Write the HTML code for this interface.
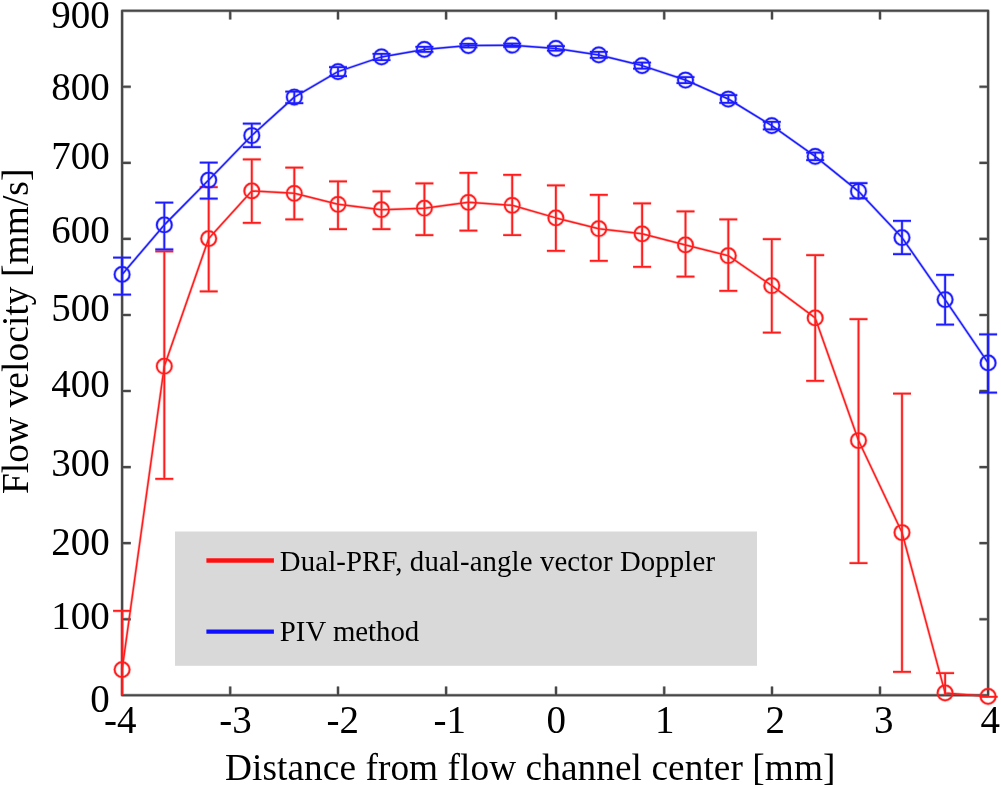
<!DOCTYPE html>
<html><head><meta charset="utf-8"><style>
html,body{margin:0;padding:0;background:#fff;width:1001px;height:788px;overflow:hidden}
svg{display:block}
text{font-family:"Liberation Serif","Times New Roman",serif;fill:#000}
</style></head><body>
<svg width="1001" height="788" viewBox="0 0 1001 788">
<defs><clipPath id="ax"><rect x="0" y="10.8" width="1001" height="684.4"/></clipPath></defs>
<rect x="175" y="531.5" width="582" height="134.3" fill="#d9d9d9"/>
<line x1="206.4" y1="560.5" x2="273.9" y2="560.5" stroke="#ff1010" stroke-width="4.4"/>
<line x1="206.4" y1="631.6" x2="273.9" y2="631.6" stroke="#1010ff" stroke-width="4.4"/>
<g font-size="28.8"><text x="279.8" y="571.4" textLength="435.2" lengthAdjust="spacing">Dual-PRF, dual-angle vector Doppler</text>
<text x="279.8" y="641.1">PIV method</text></g>
<path d="M122.1 10.8H988.1V695.2H122.1ZM122.1 695.2v-8.7M122.1 10.8v8.7M230.2 695.2v-8.7M230.2 10.8v8.7M338.0 695.2v-8.7M338.0 10.8v8.7M446.1 695.2v-8.7M446.1 10.8v8.7M556.0 695.2v-8.7M556.0 10.8v8.7M664.2 695.2v-8.7M664.2 10.8v8.7M772.0 695.2v-8.7M772.0 10.8v8.7M880.0 695.2v-8.7M880.0 10.8v8.7M988.1 695.2v-8.7M988.1 10.8v8.7M122.1 695.2h8.7M988.1 695.2h-8.7M122.1 619.2h8.7M988.1 619.2h-8.7M122.1 543.1h8.7M988.1 543.1h-8.7M122.1 467.1h8.7M988.1 467.1h-8.7M122.1 391.0h8.7M988.1 391.0h-8.7M122.1 315.0h8.7M988.1 315.0h-8.7M122.1 238.9h8.7M988.1 238.9h-8.7M122.1 162.9h8.7M988.1 162.9h-8.7M122.1 86.8h8.7M988.1 86.8h-8.7M122.1 10.8h8.7M988.1 10.8h-8.7" stroke="#474747" stroke-width="3.4" opacity="0.3" fill="none" stroke-linejoin="round"/>
<path d="M122.1 10.8H988.1V695.2H122.1ZM122.1 695.2v-8.7M122.1 10.8v8.7M230.2 695.2v-8.7M230.2 10.8v8.7M338.0 695.2v-8.7M338.0 10.8v8.7M446.1 695.2v-8.7M446.1 10.8v8.7M556.0 695.2v-8.7M556.0 10.8v8.7M664.2 695.2v-8.7M664.2 10.8v8.7M772.0 695.2v-8.7M772.0 10.8v8.7M880.0 695.2v-8.7M880.0 10.8v8.7M988.1 695.2v-8.7M988.1 10.8v8.7M122.1 695.2h8.7M988.1 695.2h-8.7M122.1 619.2h8.7M988.1 619.2h-8.7M122.1 543.1h8.7M988.1 543.1h-8.7M122.1 467.1h8.7M988.1 467.1h-8.7M122.1 391.0h8.7M988.1 391.0h-8.7M122.1 315.0h8.7M988.1 315.0h-8.7M122.1 238.9h8.7M988.1 238.9h-8.7M122.1 162.9h8.7M988.1 162.9h-8.7M122.1 86.8h8.7M988.1 86.8h-8.7M122.1 10.8h8.7M988.1 10.8h-8.7" stroke="#474747" stroke-width="2.1" fill="none" stroke-linejoin="round"/>
<g stroke="#ff1c1c" fill="none" stroke-width="3.2" opacity="0.28"><path clip-path="url(#ax)" d="M122.1 610.8V725.6M113.1 610.8H131.1M164.3 251.3V478.9M155.3 251.3H173.3M155.3 478.9H173.3M208.7 187.2V291.3M199.7 187.2H217.7M199.7 291.3H217.7M251.8 159.4V222.9M242.8 159.4H260.8M242.8 222.9H260.8M294.3 167.5V219.3M285.3 167.5H303.3M285.3 219.3H303.3M338.0 181.3V229.2M329.0 181.3H347.0M329.0 229.2H347.0M381.5 191.4V229.2M372.5 191.4H390.5M372.5 229.2H390.5M424.4 183.4V235.2M415.4 183.4H433.4M415.4 235.2H433.4M468.4 172.9V230.7M459.4 172.9H477.4M459.4 230.7H477.4M512.2 174.9V235.0M503.2 174.9H521.2M503.2 235.0H521.2M555.9 185.3V250.9M546.9 185.3H564.9M546.9 250.9H564.9M598.8 194.9V260.8M589.8 194.9H607.8M589.8 260.8H607.8M642.1 203.3V266.8M633.1 203.3H651.1M633.1 266.8H651.1M685.5 211.3V276.7M676.5 211.3H694.5M676.5 276.7H694.5M728.3 219.4V290.8M719.3 219.4H737.3M719.3 290.8H737.3M771.8 239.2V332.5M762.8 239.2H780.8M762.8 332.5H780.8M815.2 255.1V380.8M806.2 255.1H824.2M806.2 380.8H824.2M858.5 319.2V563.0M849.5 319.2H867.5M849.5 563.0H867.5M902.0 393.5V671.9M893.0 393.5H911.0M893.0 671.9H911.0M945.1 673.0V714.2M936.1 673.0H954.1M988.1 696.4V696.9"/>
<polyline points="122.1,669.6 164.3,366.2 208.7,238.6 251.8,190.9 294.3,193.3 338.0,204.3 381.5,209.7 424.4,208.2 468.4,202.3 512.2,205.3 555.9,217.9 598.8,228.7 642.1,233.8 685.5,244.9 728.3,255.7 771.8,285.7 815.2,317.9 858.5,440.5 902.0,532.5 945.1,692.9 988.1,696.4" stroke-linejoin="round" stroke-width="2.9"/>
<circle cx="122.1" cy="669.6" r="7.5"/><circle cx="164.3" cy="366.2" r="7.5"/><circle cx="208.7" cy="238.6" r="7.5"/><circle cx="251.8" cy="190.9" r="7.5"/><circle cx="294.3" cy="193.3" r="7.5"/><circle cx="338.0" cy="204.3" r="7.5"/><circle cx="381.5" cy="209.7" r="7.5"/><circle cx="424.4" cy="208.2" r="7.5"/><circle cx="468.4" cy="202.3" r="7.5"/><circle cx="512.2" cy="205.3" r="7.5"/><circle cx="555.9" cy="217.9" r="7.5"/><circle cx="598.8" cy="228.7" r="7.5"/><circle cx="642.1" cy="233.8" r="7.5"/><circle cx="685.5" cy="244.9" r="7.5"/><circle cx="728.3" cy="255.7" r="7.5"/><circle cx="771.8" cy="285.7" r="7.5"/><circle cx="815.2" cy="317.9" r="7.5"/><circle cx="858.5" cy="440.5" r="7.5"/><circle cx="902.0" cy="532.5" r="7.5"/><circle cx="945.1" cy="692.9" r="7.5"/><circle cx="988.1" cy="696.4" r="7.5"/></g>
<g stroke="#ff1c1c" fill="none" stroke-width="1.75"><path clip-path="url(#ax)" d="M122.1 610.8V725.6M113.1 610.8H131.1M164.3 251.3V478.9M155.3 251.3H173.3M155.3 478.9H173.3M208.7 187.2V291.3M199.7 187.2H217.7M199.7 291.3H217.7M251.8 159.4V222.9M242.8 159.4H260.8M242.8 222.9H260.8M294.3 167.5V219.3M285.3 167.5H303.3M285.3 219.3H303.3M338.0 181.3V229.2M329.0 181.3H347.0M329.0 229.2H347.0M381.5 191.4V229.2M372.5 191.4H390.5M372.5 229.2H390.5M424.4 183.4V235.2M415.4 183.4H433.4M415.4 235.2H433.4M468.4 172.9V230.7M459.4 172.9H477.4M459.4 230.7H477.4M512.2 174.9V235.0M503.2 174.9H521.2M503.2 235.0H521.2M555.9 185.3V250.9M546.9 185.3H564.9M546.9 250.9H564.9M598.8 194.9V260.8M589.8 194.9H607.8M589.8 260.8H607.8M642.1 203.3V266.8M633.1 203.3H651.1M633.1 266.8H651.1M685.5 211.3V276.7M676.5 211.3H694.5M676.5 276.7H694.5M728.3 219.4V290.8M719.3 219.4H737.3M719.3 290.8H737.3M771.8 239.2V332.5M762.8 239.2H780.8M762.8 332.5H780.8M815.2 255.1V380.8M806.2 255.1H824.2M806.2 380.8H824.2M858.5 319.2V563.0M849.5 319.2H867.5M849.5 563.0H867.5M902.0 393.5V671.9M893.0 393.5H911.0M893.0 671.9H911.0M945.1 673.0V714.2M936.1 673.0H954.1M988.1 696.4V696.9"/>
<polyline points="122.1,669.6 164.3,366.2 208.7,238.6 251.8,190.9 294.3,193.3 338.0,204.3 381.5,209.7 424.4,208.2 468.4,202.3 512.2,205.3 555.9,217.9 598.8,228.7 642.1,233.8 685.5,244.9 728.3,255.7 771.8,285.7 815.2,317.9 858.5,440.5 902.0,532.5 945.1,692.9 988.1,696.4" stroke-linejoin="round" stroke-width="1.5"/>
<circle cx="122.1" cy="669.6" r="7.5"/><circle cx="164.3" cy="366.2" r="7.5"/><circle cx="208.7" cy="238.6" r="7.5"/><circle cx="251.8" cy="190.9" r="7.5"/><circle cx="294.3" cy="193.3" r="7.5"/><circle cx="338.0" cy="204.3" r="7.5"/><circle cx="381.5" cy="209.7" r="7.5"/><circle cx="424.4" cy="208.2" r="7.5"/><circle cx="468.4" cy="202.3" r="7.5"/><circle cx="512.2" cy="205.3" r="7.5"/><circle cx="555.9" cy="217.9" r="7.5"/><circle cx="598.8" cy="228.7" r="7.5"/><circle cx="642.1" cy="233.8" r="7.5"/><circle cx="685.5" cy="244.9" r="7.5"/><circle cx="728.3" cy="255.7" r="7.5"/><circle cx="771.8" cy="285.7" r="7.5"/><circle cx="815.2" cy="317.9" r="7.5"/><circle cx="858.5" cy="440.5" r="7.5"/><circle cx="902.0" cy="532.5" r="7.5"/><circle cx="945.1" cy="692.9" r="7.5"/><circle cx="988.1" cy="696.4" r="7.5"/></g>
<path d="M979.7 696.8H997.7" stroke="#ff1c1c" stroke-width="2"/>
<g stroke="#1c1cff" fill="none" stroke-width="3.2" opacity="0.28"><path clip-path="url(#ax)" d="M122.1 257.5V294.6M113.1 257.5H131.1M113.1 294.6H131.1M164.3 202.5V249.4M155.3 202.5H173.3M155.3 249.4H173.3M208.7 162.5V198.7M199.7 162.5H217.7M199.7 198.7H217.7M251.8 123.6V147.1M242.8 123.6H260.8M242.8 147.1H260.8M294.3 91.6V103.1M285.3 91.6H303.3M285.3 103.1H303.3M338.0 67.1V76.2M329.0 67.1H347.0M329.0 76.2H347.0M381.5 53.8V60.0M372.5 53.8H390.5M372.5 60.0H390.5M424.4 46.9V51.9M415.4 46.9H433.4M415.4 51.9H433.4M468.4 43.9V47.3M459.4 43.9H477.4M459.4 47.3H477.4M512.2 43.5V46.9M503.2 43.5H521.2M503.2 46.9H521.2M555.9 46.2V50.7M546.9 46.2H564.9M546.9 50.7H564.9M598.8 51.9V57.9M589.8 51.9H607.8M589.8 57.9H607.8M642.1 62.5V68.6M633.1 62.5H651.1M633.1 68.6H651.1M685.5 77.0V83.0M676.5 77.0H694.5M676.5 83.0H694.5M728.3 95.2V102.8M719.3 95.2H737.3M719.3 102.8H737.3M771.8 121.8V129.4M762.8 121.8H780.8M762.8 129.4H780.8M815.2 152.6V160.2M806.2 152.6H824.2M806.2 160.2H824.2M858.5 183.1V198.4M849.5 183.1H867.5M849.5 198.4H867.5M902.0 220.8V254.1M893.0 220.8H911.0M893.0 254.1H911.0M945.1 274.8V324.6M936.1 274.8H954.1M936.1 324.6H954.1M988.1 334.4V392.6M979.1 334.4H997.1M979.1 392.6H997.1"/>
<polyline points="122.1,274.4 164.3,224.9 208.7,180.0 251.8,135.5 294.3,97.1 338.0,71.6 381.5,56.9 424.4,49.4 468.4,45.6 512.2,45.2 555.9,48.4 598.8,54.9 642.1,65.6 685.5,80.0 728.3,99.0 771.8,125.6 815.2,156.4 858.5,191.3 902.0,237.6 945.1,299.6 988.1,362.9" stroke-linejoin="round" stroke-width="2.9"/>
<circle cx="122.1" cy="274.4" r="7.5"/><circle cx="164.3" cy="224.9" r="7.5"/><circle cx="208.7" cy="180.0" r="7.5"/><circle cx="251.8" cy="135.5" r="7.5"/><circle cx="294.3" cy="97.1" r="7.5"/><circle cx="338.0" cy="71.6" r="7.5"/><circle cx="381.5" cy="56.9" r="7.5"/><circle cx="424.4" cy="49.4" r="7.5"/><circle cx="468.4" cy="45.6" r="7.5"/><circle cx="512.2" cy="45.2" r="7.5"/><circle cx="555.9" cy="48.4" r="7.5"/><circle cx="598.8" cy="54.9" r="7.5"/><circle cx="642.1" cy="65.6" r="7.5"/><circle cx="685.5" cy="80.0" r="7.5"/><circle cx="728.3" cy="99.0" r="7.5"/><circle cx="771.8" cy="125.6" r="7.5"/><circle cx="815.2" cy="156.4" r="7.5"/><circle cx="858.5" cy="191.3" r="7.5"/><circle cx="902.0" cy="237.6" r="7.5"/><circle cx="945.1" cy="299.6" r="7.5"/><circle cx="988.1" cy="362.9" r="7.5"/></g>
<g stroke="#1c1cff" fill="none" stroke-width="1.75"><path clip-path="url(#ax)" d="M122.1 257.5V294.6M113.1 257.5H131.1M113.1 294.6H131.1M164.3 202.5V249.4M155.3 202.5H173.3M155.3 249.4H173.3M208.7 162.5V198.7M199.7 162.5H217.7M199.7 198.7H217.7M251.8 123.6V147.1M242.8 123.6H260.8M242.8 147.1H260.8M294.3 91.6V103.1M285.3 91.6H303.3M285.3 103.1H303.3M338.0 67.1V76.2M329.0 67.1H347.0M329.0 76.2H347.0M381.5 53.8V60.0M372.5 53.8H390.5M372.5 60.0H390.5M424.4 46.9V51.9M415.4 46.9H433.4M415.4 51.9H433.4M468.4 43.9V47.3M459.4 43.9H477.4M459.4 47.3H477.4M512.2 43.5V46.9M503.2 43.5H521.2M503.2 46.9H521.2M555.9 46.2V50.7M546.9 46.2H564.9M546.9 50.7H564.9M598.8 51.9V57.9M589.8 51.9H607.8M589.8 57.9H607.8M642.1 62.5V68.6M633.1 62.5H651.1M633.1 68.6H651.1M685.5 77.0V83.0M676.5 77.0H694.5M676.5 83.0H694.5M728.3 95.2V102.8M719.3 95.2H737.3M719.3 102.8H737.3M771.8 121.8V129.4M762.8 121.8H780.8M762.8 129.4H780.8M815.2 152.6V160.2M806.2 152.6H824.2M806.2 160.2H824.2M858.5 183.1V198.4M849.5 183.1H867.5M849.5 198.4H867.5M902.0 220.8V254.1M893.0 220.8H911.0M893.0 254.1H911.0M945.1 274.8V324.6M936.1 274.8H954.1M936.1 324.6H954.1M988.1 334.4V392.6M979.1 334.4H997.1M979.1 392.6H997.1"/>
<polyline points="122.1,274.4 164.3,224.9 208.7,180.0 251.8,135.5 294.3,97.1 338.0,71.6 381.5,56.9 424.4,49.4 468.4,45.6 512.2,45.2 555.9,48.4 598.8,54.9 642.1,65.6 685.5,80.0 728.3,99.0 771.8,125.6 815.2,156.4 858.5,191.3 902.0,237.6 945.1,299.6 988.1,362.9" stroke-linejoin="round" stroke-width="1.5"/>
<circle cx="122.1" cy="274.4" r="7.5"/><circle cx="164.3" cy="224.9" r="7.5"/><circle cx="208.7" cy="180.0" r="7.5"/><circle cx="251.8" cy="135.5" r="7.5"/><circle cx="294.3" cy="97.1" r="7.5"/><circle cx="338.0" cy="71.6" r="7.5"/><circle cx="381.5" cy="56.9" r="7.5"/><circle cx="424.4" cy="49.4" r="7.5"/><circle cx="468.4" cy="45.6" r="7.5"/><circle cx="512.2" cy="45.2" r="7.5"/><circle cx="555.9" cy="48.4" r="7.5"/><circle cx="598.8" cy="54.9" r="7.5"/><circle cx="642.1" cy="65.6" r="7.5"/><circle cx="685.5" cy="80.0" r="7.5"/><circle cx="728.3" cy="99.0" r="7.5"/><circle cx="771.8" cy="125.6" r="7.5"/><circle cx="815.2" cy="156.4" r="7.5"/><circle cx="858.5" cy="191.3" r="7.5"/><circle cx="902.0" cy="237.6" r="7.5"/><circle cx="945.1" cy="299.6" r="7.5"/><circle cx="988.1" cy="362.9" r="7.5"/></g>
<g font-size="39">
<text x="109.7" y="711.6" text-anchor="end">0</text><text x="109.7" y="628.9" text-anchor="end">100</text><text x="109.7" y="555.3" text-anchor="end">200</text><text x="109.7" y="476.4" text-anchor="end">300</text><text x="109.7" y="396.5" text-anchor="end">400</text><text x="109.7" y="321.4" text-anchor="end">500</text><text x="109.7" y="243.0" text-anchor="end">600</text><text x="109.7" y="169.3" text-anchor="end">700</text><text x="109.7" y="100.2" text-anchor="end">800</text><text x="109.7" y="28.2" text-anchor="end">900</text>
<text x="103.9" y="733.2">-4</text><text x="219.2" y="733.2">-3</text><text x="326.5" y="733.2">-2</text><text x="433.6" y="733.2">-1</text><text x="546.4" y="733.2">0</text><text x="655.1" y="733.2">1</text><text x="765.5" y="733.2">2</text><text x="873.9" y="733.2">3</text><text x="980.6" y="733.2">4</text>
</g>
<text x="225" y="779.8" font-size="37.3" textLength="610.4" lengthAdjust="spacing">Distance from flow channel center [mm]</text>
<text transform="translate(27.5 494) rotate(-90)" font-size="37.5" textLength="325.5" lengthAdjust="spacing">Flow velocity [mm/s]</text>
</svg>
</body></html>
